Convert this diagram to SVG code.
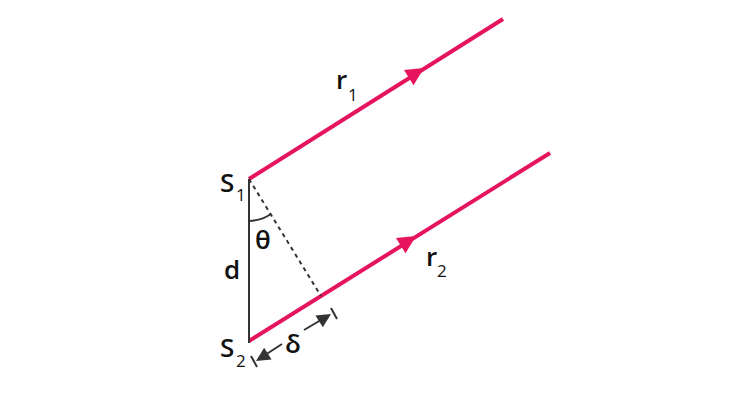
<svg xmlns="http://www.w3.org/2000/svg" width="750" height="420" viewBox="0 0 750 420">
<style>
.ray{stroke:#e6145e;stroke-width:4;fill:none;stroke-linecap:butt}
.dk{stroke:#333;stroke-width:2;fill:none}
.dash{stroke:#333;stroke-width:2;stroke-dasharray:4 4;fill:none}
.lbl{font-family:"Open Sans","DejaVu Sans",sans-serif;font-weight:600;font-size:26px;fill:#111}
.sub{font-family:"Open Sans","DejaVu Sans",sans-serif;font-weight:400;font-size:17px;fill:#111}
.ah{fill:#e6145e}
.dah{fill:#333}
</style>
<defs>
<path id="head" d="M0,0 L-18,-9 L-18,9 Z"/>
<path id="dhead" d="M0,0 L-14,-7 L-14,7 Z"/>
</defs>
<rect width="750" height="420" fill="#fff"/>
<g id="connectors">
<line class="ray" x1="249" y1="179" x2="503" y2="19"/>
<line class="ray" x1="249" y1="341" x2="550" y2="153"/>
<line class="dk" x1="249" y1="179" x2="249" y2="343"/>
<line class="dash" x1="249" y1="179" x2="321" y2="296"/>
<path class="dk" d="M249,221 A42,42 0 0 0 271,214"/>
<use href="#head" class="ah" transform="translate(424,68) rotate(-32.1)"/>
<use href="#head" class="ah" transform="translate(416,236) rotate(-32)"/>
<line class="dk" x1="262" y1="357" x2="282" y2="344"/>
<line class="dk" x1="304" y1="330" x2="326" y2="317"/>
<use href="#dhead" class="dah" transform="translate(331,314) rotate(-32)"/>
<use href="#dhead" class="dah" transform="translate(256,361) rotate(148)"/>
<line class="dk" x1="331" y1="308" x2="337" y2="319"/>
<line class="dk" x1="251" y1="356" x2="257" y2="367"/>
</g>
<g id="r1"><text class="lbl" x="336" y="89">r</text><text class="sub" x="348" y="101">1</text></g>
<g id="r2"><text class="lbl" x="426" y="266">r</text><text class="sub" x="437" y="277">2</text></g>
<g id="S1"><text class="lbl" x="220" y="192">S</text><text class="sub" x="236" y="201">1</text></g>
<g id="S2"><text class="lbl" x="220" y="357">S</text><text class="sub" x="236" y="367">2</text></g>
<g id="theta"><text class="lbl" x="255" y="249">θ</text></g>
<g id="d"><text class="lbl" x="224" y="279">d</text></g>
<g id="delta"><text class="lbl" x="285" y="353">δ</text></g>
</svg>
